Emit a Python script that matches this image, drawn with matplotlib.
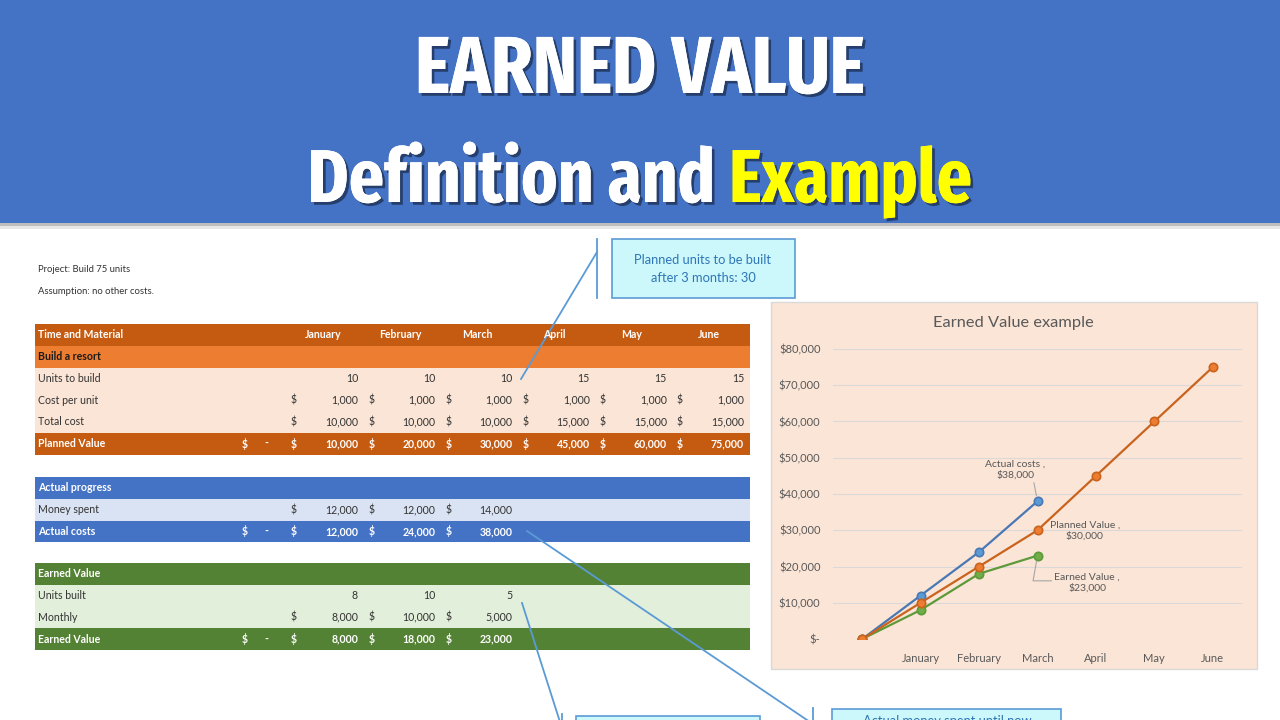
import matplotlib
matplotlib.use("Agg")
import matplotlib.pyplot as plt
from matplotlib.patches import Rectangle
from matplotlib import font_manager
import matplotlib.patheffects as pe

# table / chart data
months = ["January", "February", "March", "April", "May", "June"]
units_to_build = [10, 10, 10, 15, 15, 15]
cost_per_unit = [1000, 1000, 1000, 1000, 1000, 1000]
total_cost = [10000, 10000, 10000, 15000, 15000, 15000]
planned_value = [10000, 20000, 30000, 45000, 60000, 75000]
money_spent = [12000, 12000, 14000]
actual_costs = [12000, 24000, 38000]
units_built = [8, 10, 5]
monthly_ev = [8000, 10000, 5000]
earned_value = [8000, 18000, 23000]

chart_categories = [""] + months
pv_series = [0] + planned_value
ac_series = [0] + actual_costs
ev_series = [0] + earned_value
y_ticks = [0, 10000, 20000, 30000, 40000, 50000, 60000, 70000, 80000]

BODY_FONT = ["Lato", "DejaVu Sans"]


def pick_title_font():
    # look for a bold condensed face, the banner uses a narrow display font
    narrow = ("condensed", "narrow", "compressed")
    best = None
    for f in font_manager.fontManager.ttflist:
        w = f.weight if isinstance(f.weight, int) else 700 if "bold" in str(f.weight) else 400
        tag = (f.name + " " + f.fname + " " + str(f.stretch)).lower()
        if w >= 600 and any(n in tag for n in narrow) and "italic" not in tag and "oblique" not in tag:
            score = (0 if "extra" in tag or "compressed" in tag else 1, abs(w - 700))
            if best is None or score < best[0]:
                best = (score, f.fname)
    if best:
        return font_manager.FontProperties(fname=best[1])
    return font_manager.FontProperties(family="DejaVu Sans", weight="bold")


TITLE_PROP = pick_title_font()

fig = plt.figure(figsize=(12.8, 7.2), dpi=100)
bg = fig.add_axes([0, 0, 1, 1])
bg.set_xlim(0, 1280)
bg.set_ylim(720, 0)
bg.axis("off")
renderer = fig.canvas.get_renderer()

# banner
bg.add_patch(Rectangle((0, 223), 1280, 3, fc="#BDBDBD", ec="none"))
bg.add_patch(Rectangle((0, 226), 1280, 3, fc="#E6E6E6", ec="none"))
bg.add_patch(Rectangle((0, 0), 1280, 223, fc="#4472C4", ec="none"))
shadow = [pe.withSimplePatchShadow(offset=(2, -2), shadow_rgbFace="black", alpha=0.45), pe.Normal()]


def fit_size(parts, target_w, max_size):
    probe = [bg.text(0, 0, p, fontproperties=TITLE_PROP, fontsize=50) for p in parts]
    w = sum(t.get_window_extent(renderer).width for t in probe)
    for t in probe:
        t.remove()
    return min(50 * target_w / w, max_size)


size1 = fit_size(["EARNED VALUE"], 450, 96)
bg.text(640, 93, "EARNED VALUE", ha="center", va="baseline", color="white",
        fontproperties=TITLE_PROP, fontsize=size1, path_effects=shadow)

size2 = fit_size(["Definition and ", "Example"], 664, 92)
t1 = bg.text(0, 202, "Definition and ", ha="left", va="baseline", color="white",
             fontproperties=TITLE_PROP, fontsize=size2, path_effects=shadow)
t2 = bg.text(0, 202, "Example", ha="left", va="baseline", color="#FFFF00",
             fontproperties=TITLE_PROP, fontsize=size2, path_effects=shadow)
w1 = t1.get_window_extent(renderer).width
w2 = t2.get_window_extent(renderer).width
x0 = 640 - (w1 + w2) / 2
t1.set_x(x0)
t2.set_x(x0 + w1)

# notes
bg.text(38, 270, "Project: Build 75 units", fontsize=6.8, color="#333333", va="center", family=BODY_FONT)
bg.text(38, 292, "Assumption: no other costs.", fontsize=6.8, color="#333333", va="center", family=BODY_FONT)

# tables
RH = 21.75
X0, X1 = 35, 750
FS = 7.6
col_right = [358 + 77.2 * i for i in range(6)]
col_dollar = [294 + 77.2 * i for i in range(6)]


def band(y, color):
    bg.add_patch(Rectangle((X0, y), X1 - X0, RH, fc=color, ec="none"))


def label(y, text, color, bold):
    bg.text(X0 + 3, y + RH / 2, text, fontsize=FS, color=color, va="center",
            fontweight="bold" if bold else "normal", family=BODY_FONT)


def values(y, vals, color, bold, dollar, lead=False):
    w = "bold" if bold else "normal"
    cy = y + RH / 2
    if lead:
        bg.text(245, cy, "$", fontsize=FS, color=color, va="center", ha="center", fontweight=w, family=BODY_FONT)
        bg.text(266, cy, "-", fontsize=FS, color=color, va="center", ha="center", fontweight=w, family=BODY_FONT)
    for i, v in enumerate(vals):
        if dollar:
            bg.text(col_dollar[i], cy, "$", fontsize=FS, color=color, va="center", ha="center",
                    fontweight=w, family=BODY_FONT)
        bg.text(col_right[i], cy, f"{v:,}", fontsize=FS, color=color, va="center", ha="right",
                fontweight=w, family=BODY_FONT)


# planned table
y = 324
band(y, "#C55A11")
label(y, "Time and Material", "white", True)
for i, m in enumerate(months):
    bg.text(col_right[i] - 35, y + RH / 2, m, fontsize=FS, color="white", va="center", ha="center",
            fontweight="bold", family=BODY_FONT)
y += RH
band(y, "#ED7D31")
label(y, "Build a resort", "#1A1A1A", True)
y += RH
band(y, "#FBE5D6")
label(y, "Units to build", "#333333", False)
values(y, units_to_build, "#333333", False, False)
y += RH
band(y, "#FBE5D6")
label(y, "Cost per unit", "#333333", False)
values(y, cost_per_unit, "#333333", False, True)
y += RH
band(y, "#FBE5D6")
label(y, "Total cost", "#333333", False)
values(y, total_cost, "#333333", False, True)
y += RH
band(y, "#C55A11")
label(y, "Planned Value", "white", True)
values(y, planned_value, "white", True, True, lead=True)

# actual table
y = 477
band(y, "#4472C4")
label(y, "Actual progress", "white", True)
y += RH
band(y, "#DAE3F3")
label(y, "Money spent", "#333333", False)
values(y, money_spent, "#333333", False, True)
y += RH
band(y, "#4472C4")
label(y, "Actual costs", "white", True)
values(y, actual_costs, "white", True, True, lead=True)

# earned table
y = 563
band(y, "#548235")
label(y, "Earned Value", "white", True)
y += RH
band(y, "#E2EFDA")
label(y, "Units built", "#333333", False)
values(y, units_built, "#333333", False, False)
y += RH
band(y, "#E2EFDA")
label(y, "Monthly", "#333333", False)
values(y, monthly_ev, "#333333", False, True)
y += RH
band(y, "#548235")
label(y, "Earned Value", "white", True)
values(y, earned_value, "white", True, True, lead=True)

# callouts
CL = "#5B9BD5"
bg.add_patch(Rectangle((612, 239), 183, 59, fc="#CCF8FC", ec=CL, lw=1.2))
bg.plot([597, 597], [239, 298], color=CL, lw=1.3)
bg.plot([597, 521], [252, 379], color=CL, lw=1.3)
bg.text(703, 260, "Planned units to be built", fontsize=9.3, color="#2E75B6", ha="center", va="center",
        family=BODY_FONT)
bg.text(703, 278, "after 3 months: 30", fontsize=9.3, color="#2E75B6", ha="center", va="center",
        family=BODY_FONT)

bg.add_patch(Rectangle((576, 716), 184, 20, fc="#CCF8FC", ec=CL, lw=1.2))
bg.plot([562, 562], [714, 722], color=CL, lw=1.3)
bg.plot([522, 560], [603, 722], color=CL, lw=1.3)

bg.add_patch(Rectangle((832, 709), 229, 20, fc="#CCF8FC", ec=CL, lw=1.2))
bg.plot([813, 813], [708, 722], color=CL, lw=1.3)
bg.plot([527, 810], [531, 722], color=CL, lw=1.3)
bg.text(947, 715, "Actual money spent until now", fontsize=9.3, color="#2E75B6", ha="center", va="top",
        family=BODY_FONT)

# chart panel
bg.add_patch(Rectangle((771, 302), 486, 367, fc="#FBE5D6", ec="#D9D9D9", lw=1))
bg.text(1013, 323, "Earned Value example", fontsize=11.8, color="#595959", ha="center", va="center",
        family=BODY_FONT)

ax = fig.add_axes([833 / 1280, 81 / 720, 409 / 1280, 290 / 720])
ax.set_facecolor("none")
xs = list(range(len(chart_categories)))
ax.plot(xs[:len(ac_series)], ac_series, color="#4A78B5", lw=1.6, marker="o", ms=6,
        mfc="#5B9BD5", mec="#4A78B5", mew=1.2, zorder=3)
ax.plot(xs[:len(ev_series)], ev_series, color="#5C9A3A", lw=1.6, marker="o", ms=6,
        mfc="#70AD47", mec="#5C9A3A", mew=1.2, zorder=3)
ax.plot(xs[:len(pv_series)], pv_series, color="#C9631E", lw=1.6, marker="o", ms=6,
        mfc="#ED7D31", mec="#C9631E", mew=1.2, zorder=4)

ax.set_xlim(-0.5, 6.5)
ax.set_ylim(0, 80000)
ax.set_yticks(y_ticks)
ax.set_yticklabels(["$-" if v == 0 else f"${v:,}" for v in y_ticks])
ax.set_xticks(xs)
ax.set_xticklabels(chart_categories)
ax.grid(axis="y", color="#D9D9D9", lw=0.8)
ax.set_axisbelow(True)
for s in ax.spines.values():
    s.set_visible(False)
ax.tick_params(length=0, labelsize=8, labelcolor="#595959")
ax.tick_params(axis="y", pad=9)
ax.tick_params(axis="x", pad=10)
for t in ax.get_xticklabels() + ax.get_yticklabels():
    t.set_family(BODY_FONT)

lab = dict(fontsize=7.5, color="#595959", ha="center", va="center", family=BODY_FONT)
lead = dict(arrowstyle="-", color="#A6A6A6", lw=0.8, shrinkA=0, shrinkB=4)
ax.annotate(f"Actual costs ,\n${ac_series[-1]:,}", xy=(3, ac_series[-1]), xytext=(2.62, 46600),
            arrowprops=dict(lead, relpos=(0.8, 0)), **lab)
ax.annotate(f"Planned Value ,\n${pv_series[3]:,}", xy=(3, pv_series[3]), xytext=(3.81, 29800), **lab)
ax.annotate(f"Earned Value ,\n${ev_series[-1]:,}", xy=(3, ev_series[-1]), xytext=(3.85, 15500),
            arrowprops=dict(lead, relpos=(0, 0.6), connectionstyle="angle,angleA=0,angleB=80"), **lab)

fig.savefig("out.png", dpi=100)
